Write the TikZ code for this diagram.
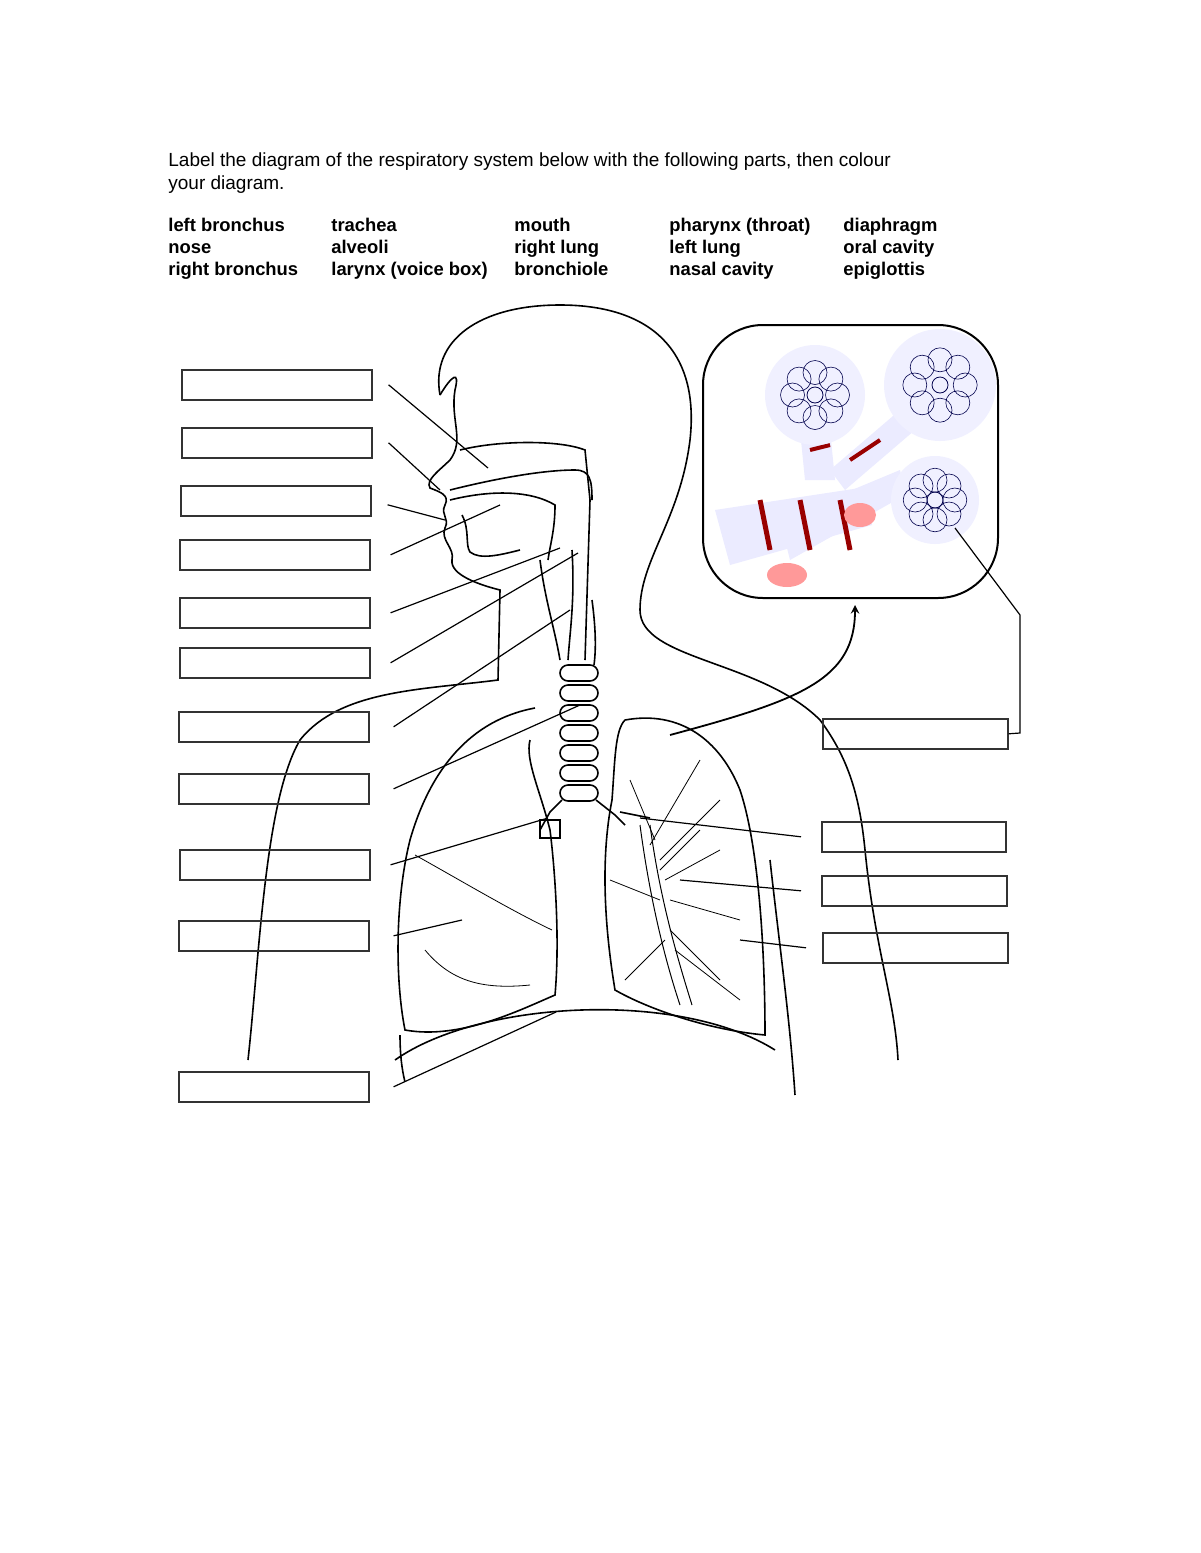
\documentclass[tikz,border=0pt]{standalone}
\usepackage{fontspec}
\setmainfont{Liberation Sans}
\begin{document}
\begin{tikzpicture}[x=0.5pt,y=-0.5pt,
  lbox/.style={draw=black!80,line width=0.8pt,minimum width=95pt,minimum height=15pt,inner sep=0pt,anchor=north west},
  lead/.style={line width=0.6pt},
  body/.style={line width=0.8pt},
  wl/.style={anchor=north west,font=\bfseries\fontsize{9.2}{11}\selectfont,align=left,inner sep=0pt}]
\useasboundingbox (0,0) rectangle (1200,1553);
\fill[white] (0,0) rectangle (1200,1553);
\node[anchor=north west,inner sep=0pt,align=left,font=\fontsize{9.5}{11.5}\selectfont] (title) at (168,152) {Label the diagram of the respiratory system below with the following parts, then colour\\your diagram.};
\node[wl] (w1) at (168,218) {left bronchus\\nose\\right bronchus};
\node[wl] (w2) at (331,218) {trachea\\alveoli\\larynx (voice box)};
\node[wl] (w3) at (514,218) {mouth\\right lung\\bronchiole};
\node[wl] (w4) at (669,218) {pharynx (throat)\\left lung\\nasal cavity};
\node[wl] (w5) at (843,218) {diaphragm\\oral cavity\\epiglottis};
% body outline
\draw[body] (440,395) .. controls (430,340) and (480,305) .. (560,305) .. controls (650,305) and (700,350) .. (690,440) .. controls (680,520) and (640,560) .. (640,610) .. controls (640,660) and (760,660) .. (820,720) .. controls (850,760) and (860,800) .. (865,850) .. controls (875,950) and (895,1000) .. (898,1060);
\draw[body] (440,395) .. controls (452,375) and (460,370) .. (455,390) .. controls (450,420) and (465,440) .. (450,460) .. controls (440,470) and (425,480) .. (430,488) .. controls (440,492) and (450,495) .. (445,505) .. controls (440,515) and (450,518) .. (445,528) .. controls (440,540) and (455,548) .. (452,560) .. controls (450,575) and (480,585) .. (500,590) -- (498,680) .. controls (420,690) and (340,690) .. (300,740) .. controls (265,800) and (260,950) .. (248,1060);
\draw[body] (770,860) .. controls (780,950) and (790,1020) .. (795,1095);
\draw[body] (400,1035) .. controls (400,1055) and (402,1070) .. (405,1082);
% nasal / oral cavity
\draw[body] (460,450) .. controls (500,440) and (560,440) .. (585,450) -- (590,500) -- (585,660);
\draw[body] (450,500) .. controls (490,490) and (530,490) .. (555,505) .. controls (555,530) and (550,545) .. (548,560);
\draw[body] (450,490) .. controls (490,480) and (540,470) .. (575,470) .. controls (590,470) and (592,480) .. (592,500);
\draw[body] (462,515) .. controls (470,530) and (465,545) .. (470,552) .. controls (480,560) and (500,555) .. (520,550);
\draw[body] (540,560) .. controls (545,600) and (555,630) .. (560,660);
\draw[body] (572,550) .. controls (575,600) and (570,630) .. (568,660);
\draw[body] (592,600) .. controls (596,630) and (596,650) .. (594,665);
% trachea rings
\foreach \y in {665,685,705,725,745,765,785}{
  \draw[body,rounded corners=4pt] (560,\y) rectangle (598,\y+16);}
\draw[body] (562,800) -- (550,812) -- (540,830);
\draw[body] (596,800) -- (615,815) -- (625,825);
% right lung (viewer left)
\draw[body] (535,708) .. controls (470,720) and (430,770) .. (410,840) .. controls (395,900) and (395,980) .. (405,1030) .. controls (460,1040) and (520,1010) .. (555,995) .. controls (560,940) and (555,870) .. (550,830) .. controls (540,790) and (525,760) .. (530,740);
\draw[line width=0.4pt] (415,855) .. controls (460,880) and (510,910) .. (552,930);
\draw[line width=0.4pt] (425,950) .. controls (450,980) and (480,990) .. (530,985);
\draw[line width=0.8pt] (540,820) rectangle (560,838);
% left lung (viewer right)
\draw[body] (625,720) .. controls (680,710) and (720,740) .. (740,790) .. controls (760,850) and (765,960) .. (765,1035) .. controls (710,1030) and (650,1010) .. (615,990) .. controls (605,930) and (600,860) .. (612,800) .. controls (615,760) and (615,730) .. (625,720);
\draw[line width=0.5pt] (640,825) .. controls (650,900) and (665,960) .. (680,1005);
\draw[line width=0.5pt] (650,825) .. controls (660,900) and (678,960) .. (692,1005);
\foreach \a/\b/\c/\d in {665/880/720/850, 670/900/740/920, 660/860/720/800, 650/845/700/760, 670/930/720/980, 675/950/740/1000, 660/900/610/880, 665/940/625/980, 660/870/700/830, 655/840/630/780}{
  \draw[line width=0.4pt] (\a,\b) -- (\c,\d);}
\draw[line width=0.8pt] (620,812) -- (650,818);
% diaphragm
\draw[body] (395,1060) .. controls (480,1000) and (680,990) .. (775,1050);
% inset
\draw[line width=1pt,rounded corners=30pt] (703,325) rectangle (998,598);
\begin{scope}
\fill[blue!8] (780,520) -- (900,470) -- (905,495) -- (790,560) -- cycle;
\fill[blue!8] (715,510) -- (860,488) -- (872,525) -- (730,565) -- cycle;
\fill[blue!8] (800,430) -- (830,430) -- (835,480) -- (805,480) -- cycle;
\fill[blue!8] (830,470) -- (900,410) -- (915,430) -- (845,490) -- cycle;
\foreach \x in {760,800,840}{\draw[red!60!black,line width=2.5pt] (\x,500) -- (\x+10,550);}
\draw[red!60!black,line width=2pt] (810,450) -- (830,445) (850,460) -- (880,440);
\fill[red!40] (787,575) ellipse (10pt and 6pt);
\fill[red!40] (860,515) ellipse (8pt and 6pt);
\foreach \cx/\cy/\r in {815/395/25,940/385/28,935/500/22}{
  \fill[blue!6] (\cx,\cy) circle (\r pt);
  \foreach \i in {0,45,...,315}{\draw[blue!30!black,line width=0.3pt] (\cx,\cy) ++(\i:\r*0.9) circle (6pt);}
  \draw[blue!30!black,line width=0.4pt] (\cx,\cy) circle (4pt);}
\end{scope}
% boxes left
\node[lbox] (b1) at (181,369) {};
\node[lbox] (b2) at (181,427) {};
\node[lbox] (b3) at (180,485) {};
\node[lbox] (b4) at (179,539) {};
\node[lbox] (b5) at (179,597) {};
\node[lbox] (b6) at (179,647) {};
\node[lbox] (b7) at (178,711) {};
\node[lbox] (b8) at (178,773) {};
\node[lbox] (b9) at (179,849) {};
\node[lbox] (b10) at (178,920) {};
\node[lbox] (b11) at (178,1071) {};
\node[lbox,minimum width=92.5pt] (r1) at (822,718) {};
\node[lbox,minimum width=92pt] (r2) at (821,821) {};
\node[lbox,minimum width=92.5pt] (r3) at (821,875) {};
\node[lbox,minimum width=92.5pt] (r4) at (822,932) {};
% leaders
\coordinate (t1) at (488,468); \coordinate (t2) at (440,490);
\coordinate (t3) at (445,520); \coordinate (t4) at (500,505);
\coordinate (t5) at (560,548); \coordinate (t6) at (578,553);
\coordinate (t7) at (570,610); \coordinate (t8) at (580,705);
\coordinate (t9) at (548,818); \coordinate (t10) at (462,920);
\coordinate (t11) at (556,1012);
\draw[lead] ([xshift=8]b1.east) -- (t1);
\draw[lead] ([xshift=8]b2.east) -- (t2);
\draw[lead] ([xshift=8,yshift=-2]b3.east) -- (t3);
\draw[lead] ([xshift=10]b4.east) -- (t4);
\draw[lead] ([xshift=10]b5.east) -- (t5);
\draw[lead] ([xshift=10]b6.east) -- (t6);
\draw[lead] ([xshift=12]b7.east) -- (t7);
\draw[lead] ([xshift=12]b8.east) -- (t8);
\draw[lead] ([xshift=10]b9.east) -- (t9);
\draw[lead] ([xshift=12]b10.east) -- (t10);
\draw[lead] ([xshift=12]b11.east) -- (t11);
\coordinate (s2) at (640,818); \coordinate (s3) at (680,880); \coordinate (s4) at (740,940);
\draw[lead] ([xshift=-10]r2.west) -- (s2);
\draw[lead] ([xshift=-10]r3.west) -- (s3);
\draw[lead] ([xshift=-8]r4.west) -- (s4);
\coordinate (c1) at (1020,733); \coordinate (c2) at (1020,615); \coordinate (e1) at (955,528);
\draw[lead] (r1.east) -- (c1) -- (c2) -- (e1);
\coordinate (lg) at (670,735); \coordinate (ins) at (855,605);
\draw[lead,line width=0.9pt,-stealth] (lg) .. controls (800,700) and (855,680) .. (ins);
\end{tikzpicture}
\end{document}
